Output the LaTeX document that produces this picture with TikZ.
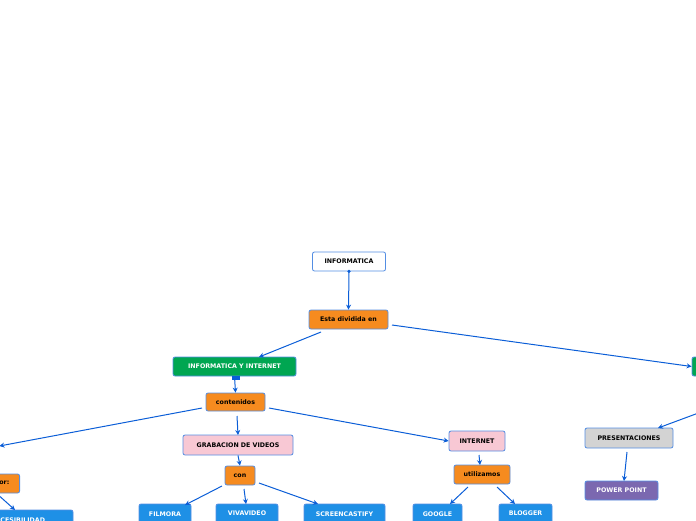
\documentclass[tikz,border=0pt]{standalone}
\usepackage{fontspec}
\setmainfont{DejaVu Sans}
\usetikzlibrary{arrows.meta}
\definecolor{ln}{HTML}{0B5ED7}
\definecolor{org}{HTML}{F68B1F}
\definecolor{grn}{HTML}{00A651}
\definecolor{pnk}{HTML}{F8C8D4}
\definecolor{blu}{HTML}{1E90E6}
\definecolor{gry}{HTML}{D3D3D3}
\definecolor{pur}{HTML}{7B68B0}
\tikzset{x=1pt,y=-1pt,
 box/.style={draw=ln!70,line width=0.8pt,rounded corners=2pt,minimum height=19pt,inner sep=0pt,font=\fontsize{6.3}{7}\selectfont\bfseries},
 wh/.style={box,fill=white},
 or/.style={box,fill=org},
 gr/.style={box,fill=grn,text=white},
 pk/.style={box,fill=pnk},
 bl/.style={box,fill=blu,text=white},
 gy/.style={box,fill=gry},
 pu/.style={box,fill=pur,text=white},
 ar/.style={draw=ln,line width=1pt,-{Stealth[length=5pt,width=5pt]}}}
\begin{document}
\begin{tikzpicture}
\useasboundingbox (0,0) rectangle (696,520);
\clip (0,0) rectangle (696,520);
\node[wh,minimum width=73pt] (inf) at (349,261.5) {INFORMATICA};
\node[or,minimum width=79pt] (esta) at (348.5,319.5) {Esta dividida en};
\node[gr,minimum width=123pt] (iyi) at (234.5,366.5) {INFORMATICA Y INTERNET};
\node[gr,minimum width=80pt] (rg) at (732,366.5) {};
\coordinate (rgc) at (720,405);
\node[or,minimum width=59pt,minimum height=18pt] (cont) at (235.5,402) {contenidos};
\node[pk,minimum width=110pt,minimum height=20pt] (grab) at (238,445) {GRABACION DE VIDEOS};
\node[or,minimum width=30pt] (con) at (240,475.5) {con};
\node[bl,minimum width=52pt,minimum height=20pt] (fil) at (165,514) {FILMORA};
\node[bl,minimum width=62pt] (viva) at (247,513.5) {VIVAVIDEO};
\node[bl,minimum width=81pt,minimum height=20pt] (scr) at (344.5,514) {SCREENCASTIFY};
\node[pk,minimum width=56pt,minimum height=20pt] (int) at (477,441) {INTERNET};
\node[or,minimum width=56pt] (uti) at (482,474.5) {utilizamos};
\node[bl,minimum width=49pt,minimum height=20pt] (goo) at (437.5,514) {GOOGLE};
\node[bl,minimum width=53pt] (blo) at (525.5,513.5) {BLOGGER};
\node[gy,minimum width=88pt,minimum height=20pt] (pre) at (629,438) {PRESENTACIONES};
\node[pu,minimum width=73pt] (pp) at (621.5,490.5) {POWER POINT};
\node[bl,minimum width=30pt,minimum height=20pt] (lb) at (-16,446) {};
\node[or,minimum width=50pt,anchor=east] (por) at (20,483.5) {\hspace*{20pt}por:\hspace*{5pt}};
\node[bl,minimum width=110pt,minimum height=20pt] (acc) at (18,520) {ACCESIBILIDAD};
\fill[ln] (inf.south) circle (1.8pt);
\draw[ar] (inf.south) -- (esta.north);
\draw[ar] (321,332) -- (259,357);
\draw[ar] (392,325) -- (rg.west);
\fill[ln] (232,376) rectangle (240,380);
\draw[ar] (iyi.south) -- (cont.north);
\draw[ar] (202,408) -- (lb.east);
\draw[ar] (237,416) -- (238,435);
\draw[ar] (269,408) -- (int.west);
\draw[ar] (grab.south) -- (con.north);
\draw[ar] (222,486) -- (185,505);
\draw[ar] (244,489) -- (246,504);
\draw[ar] (259,483) -- (318,504);
\draw[ar] (479,455) -- (480,465);
\draw[ar] (468,487) -- (450,504);
\draw[ar] (497,487) -- (515,504);
\draw[ar] (rgc) -- (658,428);
\draw[ar] (627,452) -- (624,481);
\draw[ar] (-5,492) -- (15,510);
\end{tikzpicture}
\end{document}
